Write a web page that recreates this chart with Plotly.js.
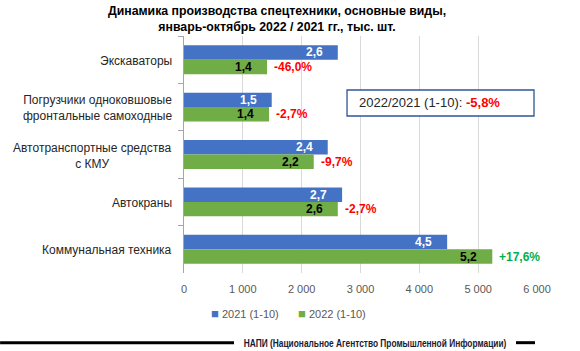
<!DOCTYPE html>
<html>
<head>
<meta charset="utf-8">
<script src="https://cdn.plot.ly/plotly-3.0.1.min.js"></script>
<style>html,body{margin:0;padding:0;background:#fff;}#chart{width:580px;height:351px;}</style>
</head>
<body>
<div id="chart"></div>
<script>
// ---- data ----
const categories = [
  'Экскаваторы',
  'Погрузчики одноковшовые<br>фронтальные самоходные',
  'Автотранспортные средства<br>с КМУ',
  'Автокраны',
  'Коммунальная техника'
];
const seriesNames = ['2021 (1-10)', '2022 (1-10)'];
const values2021 = [2614, 1491, 2443, 2687, 4473];
const values2022 = [1412, 1446, 2205, 2614, 5240];
const labels2021 = ['2,6', '1,5', '2,4', '2,7', '4,5'];
const labels2022 = ['1,4', '1,4', '2,2', '2,6', '5,2'];
const changePct = [-46.0, -2.7, -9.7, -2.7, 17.6];
const totalChangeLabel = '2022/2021 (1-10): ';
const totalChange = -5.8;
const xTicks = [0, 1000, 2000, 3000, 4000, 5000, 6000];
const footerText = 'НАПИ (Национальное Агентство Промышленной Информации)';

// ---- styling ----
const BLUE = '#4472C4', GREEN = '#70AD47';
const FONT = 'Liberation Sans, Arial, sans-serif';
const bargap = 0.39;
const off = (1 - bargap) / 4;

const fmtPct = v => (v > 0 ? '+' : '') + v.toFixed(1).replace('.', ',') + '%';

const traces = [
  {type: 'bar', orientation: 'h', name: seriesNames[0], y: categories, x: values2021,
   marker: {color: BLUE}, hoverinfo: 'skip'},
  {type: 'bar', orientation: 'h', name: seriesNames[1], y: categories, x: values2022,
   marker: {color: GREEN}, hoverinfo: 'skip'}
];

const annotations = [];
categories.forEach((c, i) => {
  annotations.push({xref: 'paper', yref: 'y', x: 0, y: i, xanchor: 'right', yanchor: 'middle',
    xshift: -10, yshift: -1, text: c, align: 'center', showarrow: false,
    font: {family: FONT, size: 12, color: '#262626'}});
  annotations.push({xref: 'x', yref: 'y', x: values2021[i], y: i - off, xanchor: 'right', yanchor: 'middle',
    xshift: -13, text: '<b>' + labels2021[i] + '</b>', showarrow: false,
    font: {family: FONT, size: 12, color: '#FFFFFF'}});
  annotations.push({xref: 'x', yref: 'y', x: values2022[i], y: i + off, xanchor: 'right', yanchor: 'middle',
    xshift: -13, text: '<b>' + labels2022[i] + '</b>', showarrow: false,
    font: {family: FONT, size: 12, color: '#000000'}});
  annotations.push({xref: 'x', yref: 'y', x: values2022[i], y: i + off, xanchor: 'left', yanchor: 'middle',
    xshift: 5, text: '<b>' + fmtPct(changePct[i]) + '</b>', showarrow: false,
    font: {family: FONT, size: 12, color: changePct[i] > 0 ? '#00B050' : '#FF0000'}});
});

annotations.push({xref: 'paper', yref: 'paper', x: 0.4892, y: 0.7173, xanchor: 'left', yanchor: 'middle',
  text: totalChangeLabel + '<b><span style="color:#FF0000">' + totalChange.toFixed(1).replace('.', ',') + '%</span></b>',
  showarrow: false, font: {family: FONT, size: 13, color: '#262626'}});

const legendX = [0.0708, 0.3173];
const legendColors = [BLUE, GREEN];
seriesNames.forEach((n, k) => {
  annotations.push({xref: 'paper', yref: 'paper', x: legendX[k], y: -0.169, xanchor: 'left', yanchor: 'middle',
    text: '<span style="color:' + legendColors[k] + ';font-size:13px">■</span> ' + n,
    showarrow: false, font: {family: FONT, size: 11, color: '#595959'}});
});

annotations.push({xref: 'paper', yref: 'paper', x: 0.541, y: -0.294, xanchor: 'center', yanchor: 'middle',
  text: '<b>' + footerText + '</b>', showarrow: false, name: 'footer',
  font: {family: FONT, size: 11, color: '#1A1A33'}});

const shapes = [
  {type: 'rect', xref: 'paper', yref: 'paper', x0: 0.4618, x1: 0.9915, y0: 0.6624, y1: 0.7722,
   line: {color: '#2F5597', width: 1.3}, fillcolor: '#FFFFFF', layer: 'above'},
  {type: 'line', xref: 'paper', yref: 'paper', x0: -0.521, x1: 0.1416, y0: -0.294, y1: -0.294,
   line: {color: '#000000', width: 3}},
  {type: 'line', xref: 'paper', yref: 'paper', x0: 0.9405, x1: 0.9943, y0: -0.294, y1: -0.294,
   line: {color: '#000000', width: 3}}
];

const layout = {
  width: 580, height: 351,
  margin: {l: 184, r: 43, t: 36, b: 78, pad: 0},
  paper_bgcolor: '#FFFFFF', plot_bgcolor: '#FFFFFF',
  separators: ', ',
  barmode: 'group', bargap: bargap, bargroupgap: 0,
  showlegend: false,
  title: {
    text: '<b>Динамика производства спецтехники, основные виды,<br>январь-октябрь 2022 / 2021 гг., тыс. шт.</b>',
    font: {family: FONT, size: 12.3, color: '#000000'},
    x: 0.4776, xref: 'container', xanchor: 'center',
    y: 1 - 15 / 351, yref: 'container', yanchor: 'middle'
  },
  xaxis: {
    range: [0, 6000], tickvals: xTicks, separatethousands: true, tickformat: ',d',
    showgrid: true, gridcolor: '#D9D9D9', gridwidth: 1, zeroline: false, showline: false,
    ticks: '', tickfont: {family: FONT, size: 11, color: '#595959'}, ticklabelstandoff: 8,
    fixedrange: true
  },
  yaxis: {
    type: 'category', autorange: 'reversed', showgrid: false, zeroline: false,
    showline: true, linecolor: '#A6A6A6', linewidth: 1,
    ticks: 'outside', tickson: 'boundaries', ticklen: 5, tickcolor: '#A6A6A6',
    showticklabels: false, fixedrange: true
  },
  annotations: annotations,
  shapes: shapes
};

Plotly.newPlot('chart', traces, layout, {displayModeBar: false, staticPlot: true}).then(gd => {
  gd.querySelectorAll('.annotation-text').forEach(t => {
    if (t.textContent.indexOf('НАПИ') === 0) {
      t.style.transformBox = 'fill-box';
      t.style.transformOrigin = 'center';
      t.style.transform = 'scaleX(0.76)';
    }
  });
});
</script>
</body>
</html>
